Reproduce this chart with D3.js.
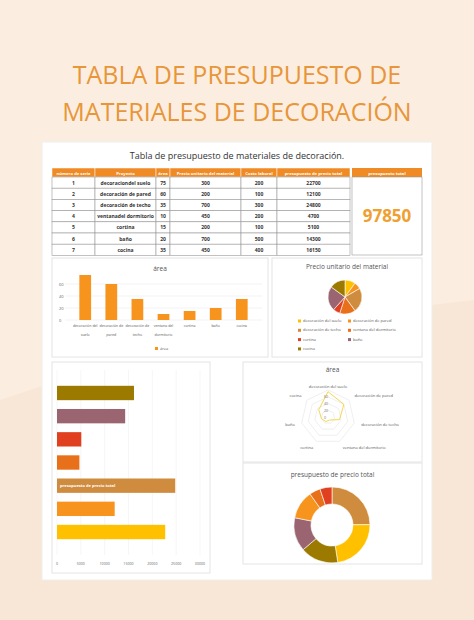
<!DOCTYPE html><html><head><meta charset="utf-8">
<script src="https://cdn.jsdelivr.net/npm/d3@7"></script>
<style>body{margin:0;background:#fbeee0}text{font-family:"Open Sans",sans-serif}</style></head><body>
<svg id="c" width="474" height="620"></svg>
<script>
const items=["decoración del suelo","decoración de pared","decoración de techo","ventana del dormitorio","cortina","baño","cocina"];
const tableNames=["decoraciondel suelo","decoración de pared","decoración de techo","ventanadel dormitorio","cortina","baño","cocina"];
const area=[75,60,35,10,15,20,35];
const unitPrice=[300,200,700,450,200,700,450];
const labor=[200,100,300,200,100,500,400];
const total=[22700,12100,24800,4700,5100,14300,16150];
const grandTotal="97850";
const headers=["número de serie","Proyecto","área","Precio unitario del material","Costo laboral","presupuesto de precio total"];
const colors=["#FFC000","#F7941D","#D08C3E","#E8701A","#E04020","#9A6470","#9C7A00"];
const areaTicks=[0,20,40,60];
const totalTicks=[0,5000,10000,15000,20000,25000,30000];

const svg=d3.select("#c");
svg.append("path").attr("d","M0,400 Q200,330 474,300 L474,620 L0,620Z").attr("fill","#f6e3cf").attr("opacity",.6);
svg.append("text").attr("x",237).attr("y",84).attr("text-anchor","middle").attr("fill","#E8963A").attr("font-size",25).attr("font-family","Lato").text("TABLA DE PRESUPUESTO DE");
svg.append("text").attr("x",237).attr("y",121).attr("text-anchor","middle").attr("fill","#E8963A").attr("font-size",25).attr("font-family","Lato").text("MATERIALES DE DECORACIÓN");
svg.append("rect").attr("x",42).attr("y",142).attr("width",390).attr("height",438).attr("fill","#fff").attr("stroke","#eee");
svg.append("text").attr("x",237).attr("y",159).attr("text-anchor","middle").attr("font-size",9).attr("fill","#333").text("Tabla de presupuesto  de materiales de decoración.");
const cx=[52,95,156,170,241,277,350];
const hy=168,rh=11.2;
const tg=svg.append("g");
headers.forEach((h,i)=>{tg.append("rect").attr("x",cx[i]).attr("y",hy).attr("width",cx[i+1]-cx[i]).attr("height",9).attr("fill","#F08A24").attr("stroke","#fff").attr("stroke-width",.5);
tg.append("text").attr("x",(cx[i]+cx[i+1])/2).attr("y",hy+6.5).attr("text-anchor","middle").attr("font-size",4.2).attr("fill","#fff").attr("font-weight","bold").text(h);});
items.forEach((d,r)=>{const row=[r+1,tableNames[r],area[r],unitPrice[r],labor[r],total[r]];const y=177+r*rh;
row.forEach((v,i)=>{tg.append("rect").attr("x",cx[i]).attr("y",y).attr("width",cx[i+1]-cx[i]).attr("height",rh).attr("fill","#fff").attr("stroke","#999").attr("stroke-width",.6);
tg.append("text").attr("x",(cx[i]+cx[i+1])/2).attr("y",y+7.5).attr("text-anchor","middle").attr("font-size",5).attr("font-weight","bold").attr("fill","#333").text(v);});});
tg.append("rect").attr("x",352).attr("y",hy).attr("width",70).attr("height",9).attr("fill","#F08A24");
tg.append("text").attr("x",387).attr("y",hy+6.5).attr("text-anchor","middle").attr("font-size",4.2).attr("fill","#fff").attr("font-weight","bold").text("presupuesto total");
tg.append("rect").attr("x",352).attr("y",177).attr("width",70).attr("height",78).attr("fill","#fff").attr("stroke","#999").attr("stroke-width",.6);
tg.append("text").attr("x",387).attr("y",222).attr("text-anchor","middle").attr("font-size",17).attr("font-weight","bold").attr("fill","#F0A030").text(grandTotal);

function panel(x,y,w,h,t,ty){svg.append("rect").attr("x",x).attr("y",y).attr("width",w).attr("height",h).attr("fill","#fff").attr("stroke","#e4e4e4");
if(t)svg.append("text").attr("x",x+w/2).attr("y",ty).attr("text-anchor","middle").attr("font-size",6.5).attr("fill","#555").text(t);}
panel(52,258,216,99,"área",271);
const xb=d3.scaleBand().domain(items).range([65,262]).padding(0.55);
const yb=d3.scaleLinear().domain([0,60]).range([320,284]);
const gb=svg.append("g");
areaTicks.forEach(t=>{gb.append("line").attr("x1",65).attr("x2",262).attr("y1",yb(t)).attr("y2",yb(t)).attr("stroke","#e6e6e6").attr("stroke-width",.5);
gb.append("text").attr("x",59).attr("y",yb(t)+1.5).attr("font-size",4).attr("fill","#666").text(t);});
gb.selectAll("rect").data(area).join("rect").attr("x",(d,i)=>xb(items[i])).attr("width",xb.bandwidth()).attr("y",d=>yb(d)).attr("height",d=>yb(0)-yb(d)).attr("fill","#F7941D");
items.forEach(it=>{const parts=it==="cortina"||it==="baño"||it==="cocina"?[it]:(it==="ventana del dormitorio"?["ventana del","dormitorio"]:[it.split(" ").slice(0,2).join(" "),it.split(" ").slice(2).join(" ")]);
parts.forEach((p,j)=>gb.append("text").attr("x",xb(it)+xb.bandwidth()/2).attr("y",327+j*9).attr("text-anchor","middle").attr("font-size",3.6).attr("fill","#555").text(p));});
gb.append("rect").attr("x",155).attr("y",347).attr("width",3).attr("height",3).attr("fill","#F7941D");
gb.append("text").attr("x",160).attr("y",350).attr("font-size",4).attr("fill","#555").text("área");
panel(272,258,150,99,"Precio unitario del material",269);
const pie=d3.pie().sort(null).value(d=>d);
const arcP=d3.arc().innerRadius(0).outerRadius(17);
svg.append("g").attr("transform","translate(345,297)").selectAll("path").data(pie(unitPrice)).join("path").attr("d",arcP).attr("fill",(d,i)=>colors[i]).attr("stroke","#fff").attr("stroke-width",.6);
items.forEach((it,i)=>{const lx=i%2?348:298,ly=322+Math.floor(i/2)*9.3;
svg.append("rect").attr("x",lx).attr("y",ly-2.5).attr("width",3).attr("height",3).attr("fill",colors[i]);
svg.append("text").attr("x",lx+5).attr("y",ly).attr("font-size",4).attr("fill","#555").text(it);});
panel(52,362,158,211);
const xh=d3.scaleLinear().domain([0,30000]).range([57,200]);
const yh=d3.scaleBand().domain(d3.range(7)).range([548,377]).padding(0.38);
totalTicks.forEach(t=>{svg.append("line").attr("x1",xh(t)).attr("x2",xh(t)).attr("y1",370).attr("y2",555).attr("stroke","#ececec").attr("stroke-width",.5);
svg.append("text").attr("x",xh(t)).attr("y",565).attr("text-anchor","middle").attr("font-size",3.6).attr("fill","#666").text(t);});
svg.append("g").selectAll("rect").data(total).join("rect").attr("x",xh(0)).attr("y",(d,i)=>yh(i)).attr("height",yh.bandwidth()).attr("width",d=>xh(d)-xh(0)).attr("fill",(d,i)=>colors[i]);
svg.append("text").attr("x",60).attr("y",yh(2)+yh.bandwidth()/2+1.5).attr("font-size",4).attr("font-weight","bold").attr("fill","#fff").text("presupuesto de precio total");
panel(243,362,179,100,"área",372);
const rc=[328,417],rr=d3.scaleLinear().domain([0,80]).range([0,27]);
const ang=i=>i*2*Math.PI/7;
[20,40,60,80].forEach(t=>svg.append("polygon").attr("points",items.map((d,i)=>[rc[0]+rr(t)*Math.sin(ang(i)),rc[1]-rr(t)*Math.cos(ang(i))].join(",")).join(" ")).attr("fill","none").attr("stroke","#e4e4e4").attr("stroke-width",.6));
svg.append("polygon").attr("points",area.map((d,i)=>[rc[0]+rr(d)*Math.sin(ang(i)),rc[1]-rr(d)*Math.cos(ang(i))].join(",")).join(" ")).attr("fill","none").attr("stroke","#F2D43A").attr("stroke-width",.9);
[0,20,40,60].forEach(t=>svg.append("text").attr("x",rc[0]-4).attr("y",rc[1]-rr(t)+1.5).attr("font-size",3.6).attr("fill","#777").text(t));
items.forEach((it,i)=>{const R=i===0?31:34,x=rc[0]+R*Math.sin(ang(i)),y=rc[1]-R*Math.cos(ang(i));const s=Math.sin(ang(i));
svg.append("text").attr("x",x).attr("y",y+1.5).attr("text-anchor",Math.abs(s)<.2?"middle":s>0?"start":"end").attr("font-size",4).attr("fill","#555").text(it);});
panel(243,463,179,101,"presupuesto de precio total",477);
const donutOrder=[2,0,6,5,1,3,4];
const arcD=d3.arc().innerRadius(21).outerRadius(38);
svg.append("g").attr("transform","translate(332,525)").selectAll("path").data(pie(donutOrder.map(i=>total[i]))).join("path").attr("d",arcD).attr("fill",(d,j)=>colors[donutOrder[j]]).attr("stroke","#fff").attr("stroke-width",.6);
</script></body></html>
